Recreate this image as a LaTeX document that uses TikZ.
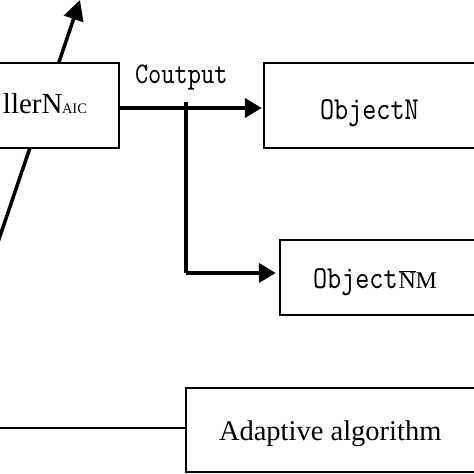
\documentclass[tikz,border=0pt]{standalone}
\usepackage{fontspec}
\setmainfont{Liberation Serif}
\newfontfamily\monof[FakeStretch=0.84]{lmmono10-regular.otf}
\usetikzlibrary{arrows.meta}
\begin{document}
\begin{tikzpicture}[x=1pt,y=-1pt,
  box/.style={draw,line width=2.4pt,fill=white,rectangle,inner sep=0pt},
  lbl/.style={inner sep=0pt,outer sep=0pt},
  thick arrow/.style={line width=4pt,-{Triangle[length=17pt,width=19pt]}},
  thin line/.style={line width=2.2pt}]
\useasboundingbox (0,0) rectangle (474,474);
\clip (0,0) rectangle (474,474);
% diagonal arrow behind controller box
\coordinate (dstart) at (-3,245);
\coordinate (dend) at (80,0);
\draw[line width=3.5pt,-{Triangle[length=20pt,width=20pt]}] (dstart) -- (dend);
% boxes
\node[box,minimum width=200pt,minimum height=85pt] (ctrl) at (19,105.5) {};
\node[box,minimum width=230pt,minimum height=85pt] (objn) at (379,105.5) {};
\node[box,minimum width=220pt,minimum height=75pt] (objnm) at (390,277.5) {};
\node[box,minimum width=310pt,minimum height=84pt] (adapt) at (341,430) {};
% texts
\node[lbl,anchor=base east] (ctrltext) at (87,113) {\fontsize{29}{29}\selectfont llerN\kern-0.5pt{\fontsize{14.5}{14.5}\selectfont AIC}};
\node[lbl,anchor=base west] (coutput) at (135,83) {\fontsize{30}{30}\monof Coutput};
\node[lbl,anchor=base west] (objntext) at (320,119) {\fontsize{32}{32}\monof ObjectN};
\node[lbl,anchor=base west] (objnmtext) at (313,288) {\fontsize{32}{32}\monof Object\kern1pt\fontsize{24}{24}\selectfont\rmfamily$\overline{\hbox{N}}$\kern-0.5pt M};
\node[lbl,anchor=base west] (adapttext) at (219,440) {\fontsize{28.5}{28.5}\selectfont Adaptive algorithm};
% connectors
\coordinate (junc) at (186,108);
\coordinate (jtop) at (186,102);
\coordinate (jbot) at (186,273);
\coordinate (leftin) at (-5,428);
\draw[thick arrow] (ctrl.east |- junc) -- ([xshift=-1pt]objn.west |- junc);
\draw[line width=4pt] (jtop) -- (jbot);
\draw[thick arrow] (jbot) -- ([xshift=-3pt]objnm.west |- jbot);
\draw[thin line] (leftin) -- (adapt.west |- leftin);
\end{tikzpicture}
\end{document}
